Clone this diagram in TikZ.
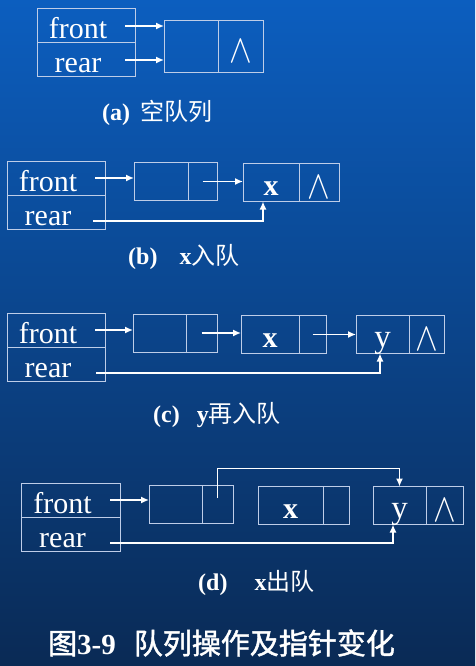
\documentclass[tikz,border=0pt]{standalone}
\usepackage{fontspec}
\setmainfont{Liberation Serif}
\newfontfamily\cjk{Noto Sans CJK SC}[AutoFakeBold=1.5]
\usetikzlibrary{positioning,arrows.meta}
\definecolor{bgtop}{RGB}{12,94,191}
\definecolor{bgbot}{RGB}{10,42,85}
\definecolor{boxline}{RGB}{190,205,232}
\tikzstyle{ptrcell}=[
	draw=boxline,
	line width=1pt,
	minimum width=98pt,
	minimum height=34pt,
	inner sep=0pt,
	outer sep=0pt,
	text height=26pt,
	text depth=0pt,
	text=white,
	font=\fontsize{30}{30}\selectfont,
	execute at end node=\hspace*{16pt}
]
\tikzstyle{datacell}=[
	draw=boxline,
	line width=1pt,
	minimum height=38pt,
	inner sep=0pt,
	outer sep=0pt,
	text height=25pt,
	text depth=0pt,
	text=white,
	font=\fontsize{30}{30}\selectfont
]
\tikzstyle{link} = [draw=white,line width=1.5pt,-{Latex[length=8pt,width=7pt]}]
\tikzstyle{caption} = [text=white,anchor=west,inner sep=0pt,font=\fontsize{24}{24}\selectfont]
\newcommand{\nul}{\raisebox{-3pt}{\scalebox{3.4}[4]{\normalsize$\wedge$}}}

\begin{document}
\begin{tikzpicture}[x=1pt,y=-1pt,node distance=0pt]

	\shade[top color=bgtop,bottom color=bgbot] (0,0) rectangle (475,666);
	\useasboundingbox (0,0) rectangle (475,666);

	% (a) empty queue
	\node[ptrcell]	(fa)	at (86,26)	{front};
	\node[ptrcell]	(ra)	[below=of fa]	{rear};
	\node[datacell, minimum width=54pt, minimum height=52pt]	(a1)	at (191,47)	{};
	\node[datacell, minimum width=45pt, minimum height=52pt]	(a1n)	[right=of a1]	{\nul};
	\draw[link] ([xshift=-10pt]fa.east) -- (fa.east -| a1.west);
	\draw[link] ([xshift=-10pt]ra.east) -- (ra.east -| a1.west);
	\node[caption]	(capa)	at (102,113)	{\textbf{(a)}\hspace{10pt}{\cjk 空队列}};

	% (b) x enters
	\node[ptrcell]	(fb)	at (56,178)	{front};
	\node[ptrcell]	(rb)	[below=of fb]	{rear};
	\node[datacell, minimum width=54pt]	(b1)	at (161,181.5)	{};
	\node[datacell, minimum width=29pt]	(b1n)	[right=of b1]	{};
	\node[datacell, minimum width=56pt]	(b2)	at (271,182.5)	{\textbf{x}};
	\node[datacell, minimum width=40pt]	(b2n)	[right=of b2]	{\nul};
	\draw[link] ([xshift=-10pt]fb.east) -- (fb.east -| b1.west);
	\draw[link] (b1n.center) -- (b1n.center -| b2.west);
	\draw[link] ([xshift=-12pt,yshift=-9pt]rb.east) -| ([xshift=-8pt]b2.south);
	\node[caption]	(capb)	at (128,257)	{\textbf{(b)}\hspace{22pt}\textbf{x}{\cjk 入队}};

	% (c) y enters
	\node[ptrcell]	(fc)	at (56,330)	{front};
	\node[ptrcell]	(rc)	[below=of fc]	{rear};
	\node[datacell, minimum width=53pt]	(c1)	at (159.5,333)	{};
	\node[datacell, minimum width=31pt]	(c1n)	[right=of c1]	{};
	\node[datacell, minimum width=58pt]	(c2)	at (270,334.5)	{\textbf{x}};
	\node[datacell, minimum width=27pt]	(c2n)	[right=of c2]	{};
	\node[datacell, minimum width=53pt, font=\fontsize{33}{33}\selectfont]	(c3)	at (382.5,334.5)	{y};
	\node[datacell, minimum width=35pt]	(c3n)	[right=of c3]	{\nul};
	\draw[link] ([xshift=-10pt]fc.east) -- (fc.east -| c1.west);
	\draw[link] (c1n.center) -- (c1n.center -| c2.west);
	\draw[link] (c2n.center) -- (c2n.center -| c3.west);
	\draw[link] ([xshift=-9pt,yshift=-9pt]rc.east) -| ([xshift=-2.5pt]c3.south);
	\node[caption]	(capc)	at (153,415)	{\textbf{(c)}\hspace{17pt}\textbf{y}{\cjk 再入队}};

	% (d) x leaves
	\node[ptrcell, minimum width=99pt]	(fd)	at (70.5,500)	{front};
	\node[ptrcell, minimum width=99pt]	(rd)	[below=of fd]	{rear};
	\node[datacell, minimum width=53pt]	(d1)	at (175.5,504)	{};
	\node[datacell, minimum width=31pt]	(d1n)	[right=of d1]	{};
	\node[datacell, minimum width=65pt]	(d2)	at (290.5,505.5)	{\textbf{x}};
	\node[datacell, minimum width=26pt]	(d2n)	[right=of d2]	{};
	\node[datacell, minimum width=53pt, font=\fontsize{33}{33}\selectfont]	(d3)	at (399.5,505.5)	{y};
	\node[datacell, minimum width=37pt]	(d3n)	[right=of d3]	{\nul};
	\draw[link] ([xshift=-10pt]fd.east) -- (fd.east -| d1.west);
	\draw[link] ([yshift=6pt]d1n.center) |- ([yshift=18pt]d3.north) -- (d3.north);
	\draw[link] ([xshift=-10pt,yshift=-9pt]rd.east) -| ([xshift=-6.5pt]d3.south);
	\node[caption]	(capd)	at (198,583)	{\textbf{(d)}\hspace{27pt}\textbf{x}{\cjk 出队}};

	% figure title
	\node[caption, font=\fontsize{29}{29}\selectfont]	(title)	at (48,643)	{{\cjk\bfseries 图}\textbf{3-9}\hspace{18pt}{\cjk\bfseries 队列操作及指针变化}};

\end{tikzpicture}
\end{document}
